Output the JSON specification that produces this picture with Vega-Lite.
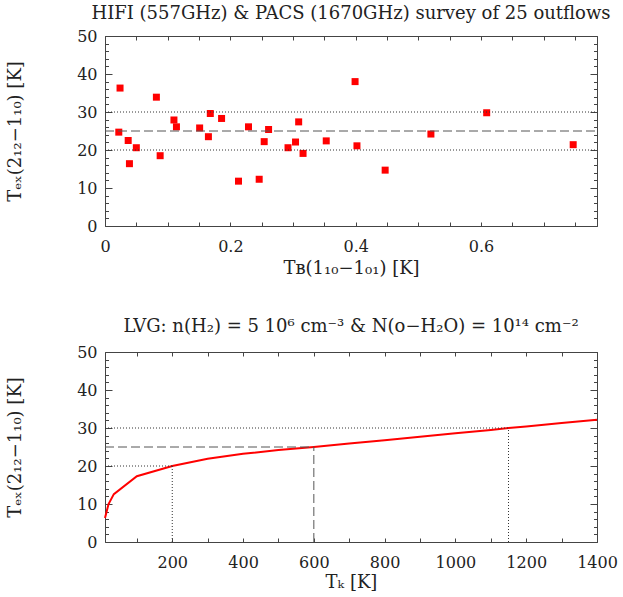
{
  "$schema": "https://vega.github.io/schema/vega-lite/v6.json",
  "padding": {"left": 6, "top": 4, "right": 5, "bottom": 0},
  "background": "white",
  "config": {
    "font": "DejaVu Serif",
    "view": {"stroke": "#444444", "strokeWidth": 1},
    "axis": {
      "grid": false, "domain": false, "tickColor": "#444444", "tickWidth": 1, "labelFlush": false,
      "labelFont": "DejaVu Serif", "labelFontSize": 16, "labelColor": "#222222",
      "titleFont": "DejaVu Serif", "titleFontSize": 18, "titleFontWeight": "normal", "titleColor": "#222222"
    },
    "title": {"font": "DejaVu Serif", "fontSize": 18, "fontWeight": "normal", "color": "#222222"}
  },
  "datasets": {
    "survey": [
      {"tb": 0.024, "tex": 36.3}, {"tb": 0.022, "tex": 24.7}, {"tb": 0.037, "tex": 22.5},
      {"tb": 0.039, "tex": 16.4}, {"tb": 0.050, "tex": 20.6}, {"tb": 0.082, "tex": 33.9},
      {"tb": 0.088, "tex": 18.5}, {"tb": 0.110, "tex": 27.9}, {"tb": 0.114, "tex": 26.1},
      {"tb": 0.151, "tex": 25.8}, {"tb": 0.165, "tex": 23.5}, {"tb": 0.168, "tex": 29.6},
      {"tb": 0.186, "tex": 28.3}, {"tb": 0.213, "tex": 11.8}, {"tb": 0.229, "tex": 26.1},
      {"tb": 0.246, "tex": 12.3}, {"tb": 0.254, "tex": 22.2}, {"tb": 0.261, "tex": 25.4},
      {"tb": 0.292, "tex": 20.6}, {"tb": 0.304, "tex": 22.1}, {"tb": 0.309, "tex": 27.4},
      {"tb": 0.316, "tex": 19.1}, {"tb": 0.353, "tex": 22.4}, {"tb": 0.399, "tex": 38.0},
      {"tb": 0.402, "tex": 21.1}, {"tb": 0.447, "tex": 14.7}, {"tb": 0.520, "tex": 24.2},
      {"tb": 0.609, "tex": 29.8}, {"tb": 0.747, "tex": 21.4}
    ],
    "topDotted": [{"x": 0, "x2": 0.785, "y": 20}, {"x": 0, "x2": 0.785, "y": 30}],
    "topDashed": [{"x": 0, "x2": 0.785, "y": 25}],
    "lvg": [
      {"tk": 10, "tex": 6.3}, {"tk": 20, "tex": 10.0}, {"tk": 35, "tex": 12.6},
      {"tk": 100, "tex": 17.3}, {"tk": 200, "tex": 20.0}, {"tk": 300, "tex": 21.9},
      {"tk": 400, "tex": 23.2}, {"tk": 500, "tex": 24.2}, {"tk": 600, "tex": 25.0},
      {"tk": 700, "tex": 25.9}, {"tk": 800, "tex": 26.8}, {"tk": 900, "tex": 27.7},
      {"tk": 1000, "tex": 28.6}, {"tk": 1100, "tex": 29.5}, {"tk": 1150, "tex": 30.0},
      {"tk": 1200, "tex": 30.4}, {"tk": 1300, "tex": 31.3}, {"tk": 1400, "tex": 32.2}
    ],
    "botDotted": [
      {"x": 10, "x2": 200, "y": 20, "y2": 20}, {"x": 200, "x2": 200, "y": 0, "y2": 20},
      {"x": 10, "x2": 1150, "y": 30, "y2": 30}, {"x": 1150, "x2": 1150, "y": 0, "y2": 30}
    ],
    "botDashed": [
      {"x": 10, "x2": 600, "y": 25, "y2": 25}, {"x": 600, "x2": 600, "y": 0, "y2": 25}
    ]
  },
  "spacing": 39,
  "vconcat": [
    {
      "width": 492, "height": 190,
      "title": {"text": "HIFI (557GHz) & PACS (1670GHz) survey of 25 outflows", "offset": 5},
      "resolve": {"axis": {"x": "independent", "y": "independent"}},
      "layer": [
        {
          "data": {"name": "survey"},
          "mark": {"type": "square", "color": "#ff0000", "size": 49, "opacity": 1},
          "encoding": {
            "x": {"field": "tb", "type": "quantitative",
              "scale": {"domain": [0, 0.785], "nice": false, "zero": false},
              "axis": {"orient": "bottom", "values": [0, 0.05, 0.1, 0.15, 0.2, 0.25, 0.3, 0.35, 0.4, 0.45, 0.5, 0.55, 0.6, 0.65, 0.7, 0.75],
                "tickSize": -4, "labelPadding": 16, "format": "~g",
                "labelExpr": "round(datum.value*100) % 20 == 0 ? datum.label : ''",
                "title": "Tʙ(1₁₀−1₀₁) [K]", "titlePadding": 5}},
            "y": {"field": "tex", "type": "quantitative",
              "scale": {"domain": [0, 50], "nice": false, "zero": false},
              "axis": {"orient": "left", "values": [0, 10, 20, 30, 40, 50], "tickSize": -7, "labelPadding": 15,
                "title": "Tₑₓ(2₁₂−1₁₀) [K]", "titlePadding": 52}}
          }
        },
        {
          "data": {"name": "topDotted"},
          "mark": {"type": "rule", "color": "#333333", "strokeDash": [1, 2], "strokeWidth": 1},
          "encoding": {
            "x": {"field": "x", "type": "quantitative",
              "axis": {"orient": "top", "values": [0, 0.05, 0.1, 0.15, 0.2, 0.25, 0.3, 0.35, 0.4, 0.45, 0.5, 0.55, 0.6, 0.65, 0.7, 0.75],
                "tickSize": -4, "labels": false, "title": null}},
            "x2": {"field": "x2"},
            "y": {"field": "y", "type": "quantitative",
              "axis": {"orient": "right", "values": [0, 10, 20, 30, 40, 50], "tickSize": -7, "labels": false, "title": null}}
          }
        },
        {
          "data": {"name": "topDashed"},
          "mark": {"type": "rule", "color": "#555555", "strokeDash": [9, 4], "strokeWidth": 1},
          "encoding": {
            "x": {"field": "x", "type": "quantitative", "axis": null},
            "x2": {"field": "x2"},
            "y": {"field": "y", "type": "quantitative",
              "axis": {"orient": "left", "values": [0, 2, 4, 6, 8, 10, 12, 14, 16, 18, 20, 22, 24, 26, 28, 30, 32, 34, 36, 38, 40, 42, 44, 46, 48, 50],
                "tickSize": -3.5, "labels": false, "title": null}}
          }
        },
        {
          "data": {"name": "topDashed"},
          "mark": {"type": "rule", "strokeOpacity": 0},
          "encoding": {
            "x": {"field": "x", "type": "quantitative", "axis": null},
            "x2": {"field": "x2"},
            "y": {"field": "y", "type": "quantitative",
              "axis": {"orient": "right", "values": [0, 2, 4, 6, 8, 10, 12, 14, 16, 18, 20, 22, 24, 26, 28, 30, 32, 34, 36, 38, 40, 42, 44, 46, 48, 50],
                "tickSize": -3.5, "labels": false, "title": null}}
          }
        }
      ]
    },
    {
      "width": 492, "height": 190,
      "title": {"text": "LVG: n(H₂) = 5 10⁶ cm⁻³ & N(o−H₂O) = 10¹⁴ cm⁻²", "offset": 8},
      "resolve": {"axis": {"x": "independent", "y": "independent"}},
      "layer": [
        {
          "data": {"name": "lvg"},
          "mark": {"type": "line", "color": "#ff0000", "strokeWidth": 2},
          "encoding": {
            "x": {"field": "tk", "type": "quantitative",
              "scale": {"domain": [10, 1400], "nice": false, "zero": false},
              "axis": {"orient": "bottom", "values": [100, 200, 300, 400, 500, 600, 700, 800, 900, 1000, 1100, 1200, 1300, 1400],
                "tickSize": -4, "labelPadding": 16,
                "labelExpr": "datum.value % 200 == 0 ? datum.label : ''", "format": "d",
                "title": "Tₖ [K]", "titlePadding": 3}},
            "y": {"field": "tex", "type": "quantitative",
              "scale": {"domain": [0, 50], "nice": false, "zero": false},
              "axis": {"orient": "left", "values": [0, 10, 20, 30, 40, 50], "tickSize": -7, "labelPadding": 15,
                "title": "Tₑₓ(2₁₂−1₁₀) [K]", "titlePadding": 52}}
          }
        },
        {
          "data": {"name": "botDotted"},
          "mark": {"type": "rule", "color": "#333333", "strokeDash": [1, 2], "strokeWidth": 1},
          "encoding": {
            "x": {"field": "x", "type": "quantitative",
              "axis": {"orient": "top", "values": [100, 200, 300, 400, 500, 600, 700, 800, 900, 1000, 1100, 1200, 1300, 1400],
                "tickSize": -4, "labels": false, "title": null}},
            "x2": {"field": "x2"},
            "y": {"field": "y", "type": "quantitative",
              "axis": {"orient": "right", "values": [0, 10, 20, 30, 40, 50], "tickSize": -7, "labels": false, "title": null}},
            "y2": {"field": "y2"}
          }
        },
        {
          "data": {"name": "botDashed"},
          "mark": {"type": "rule", "color": "#555555", "strokeDash": [9, 4], "strokeWidth": 1},
          "encoding": {
            "x": {"field": "x", "type": "quantitative", "axis": null},
            "x2": {"field": "x2"},
            "y": {"field": "y", "type": "quantitative",
              "axis": {"orient": "left", "values": [0, 2, 4, 6, 8, 10, 12, 14, 16, 18, 20, 22, 24, 26, 28, 30, 32, 34, 36, 38, 40, 42, 44, 46, 48, 50],
                "tickSize": -3.5, "labels": false, "title": null}},
            "y2": {"field": "y2"}
          }
        },
        {
          "data": {"name": "botDashed"},
          "mark": {"type": "rule", "strokeOpacity": 0},
          "encoding": {
            "x": {"field": "x", "type": "quantitative", "axis": null},
            "x2": {"field": "x2"},
            "y": {"field": "y", "type": "quantitative",
              "axis": {"orient": "right", "values": [0, 2, 4, 6, 8, 10, 12, 14, 16, 18, 20, 22, 24, 26, 28, 30, 32, 34, 36, 38, 40, 42, 44, 46, 48, 50],
                "tickSize": -3.5, "labels": false, "title": null}},
            "y2": {"field": "y2"}
          }
        }
      ]
    }
  ]
}
